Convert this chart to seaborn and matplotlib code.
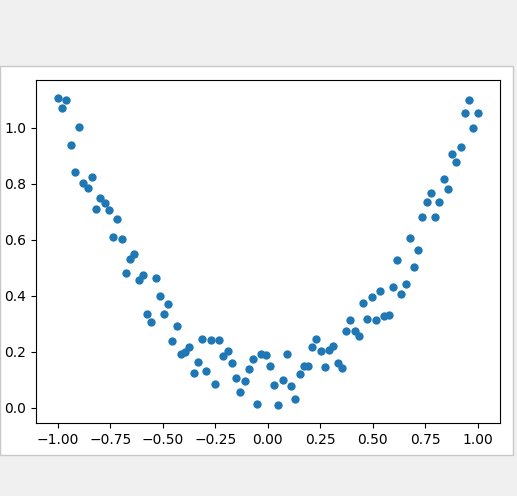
import matplotlib
matplotlib.use("Agg")
import matplotlib.pyplot as plt
from matplotlib.patches import Rectangle
import seaborn as sns


# Points (x evenly spread over -1..1)
x_vals = [-1.000, -0.980, -0.960, -0.939, -0.919, -0.899, -0.879, -0.859, -0.838, -0.818,
          -0.798, -0.778, -0.758, -0.737, -0.717, -0.697, -0.677, -0.657, -0.636, -0.616,
          -0.596, -0.576, -0.556, -0.535, -0.515, -0.495, -0.475, -0.455, -0.434, -0.414,
          -0.394, -0.374, -0.354, -0.333, -0.313, -0.293, -0.273, -0.253, -0.232, -0.212,
          -0.192, -0.172, -0.152, -0.131, -0.111, -0.091, -0.071, -0.051, -0.030, -0.010,
          0.010, 0.030, 0.051, 0.071, 0.091, 0.111, 0.131, 0.152, 0.172, 0.192,
          0.212, 0.232, 0.253, 0.273, 0.293, 0.313, 0.333, 0.354, 0.374, 0.394,
          0.414, 0.434, 0.455, 0.475, 0.495, 0.515, 0.535, 0.556, 0.576, 0.596,
          0.616, 0.636, 0.657, 0.677, 0.697, 0.717, 0.737, 0.758, 0.778, 0.798,
          0.818, 0.838, 0.859, 0.879, 0.899, 0.919, 0.939, 0.960, 0.980, 1.000]

y_vals = [1.107, 1.070, 1.101, 0.940, 0.843, 1.004, 0.802, 0.785, 0.826, 0.711,
          0.749, 0.730, 0.706, 0.611, 0.674, 0.604, 0.481, 0.532, 0.549, 0.458,
          0.476, 0.335, 0.308, 0.464, 0.399, 0.335, 0.371, 0.239, 0.292, 0.193,
          0.198, 0.218, 0.126, 0.163, 0.245, 0.133, 0.243, 0.085, 0.243, 0.186,
          0.204, 0.161, 0.108, 0.056, 0.096, 0.139, 0.173, 0.013, 0.194, 0.188,
          0.151, 0.082, 0.011, 0.099, 0.192, 0.078, 0.030, 0.120, 0.149, 0.151,
          0.218, 0.245, 0.202, 0.145, 0.205, 0.221, 0.161, 0.143, 0.273, 0.315,
          0.275, 0.257, 0.374, 0.318, 0.395, 0.314, 0.418, 0.329, 0.332, 0.432,
          0.527, 0.406, 0.442, 0.605, 0.504, 0.564, 0.680, 0.735, 0.768, 0.680,
          0.737, 0.818, 0.780, 0.906, 0.877, 0.932, 1.052, 1.099, 1.001, 1.052]

W, H = 517, 496

fig = plt.figure(figsize=(W / 100, H / 100), dpi=100, facecolor="#f0f0f0")

# white canvas area of the window, with its thin grey border
fig.patches.append(Rectangle((0, (H - 455) / H), 513 / W, (455 - 66) / H,
                             transform=fig.transFigure, facecolor="white",
                             edgecolor="#c8c8c8", linewidth=1, zorder=-1))

ax = fig.add_axes([36 / W, (H - 423) / H, 464 / W, 343 / H])
ax.set_zorder(1)
sns.scatterplot(x=x_vals, y=y_vals, ax=ax, color="#1f77b4", s=36, linewidth=0)

ax.set_xlim(-1.105, 1.107)
ax.set_ylim(-0.054, 1.171)
ax.tick_params(labelsize=10)

fig.savefig("out.png", dpi=100, facecolor=fig.get_facecolor())
